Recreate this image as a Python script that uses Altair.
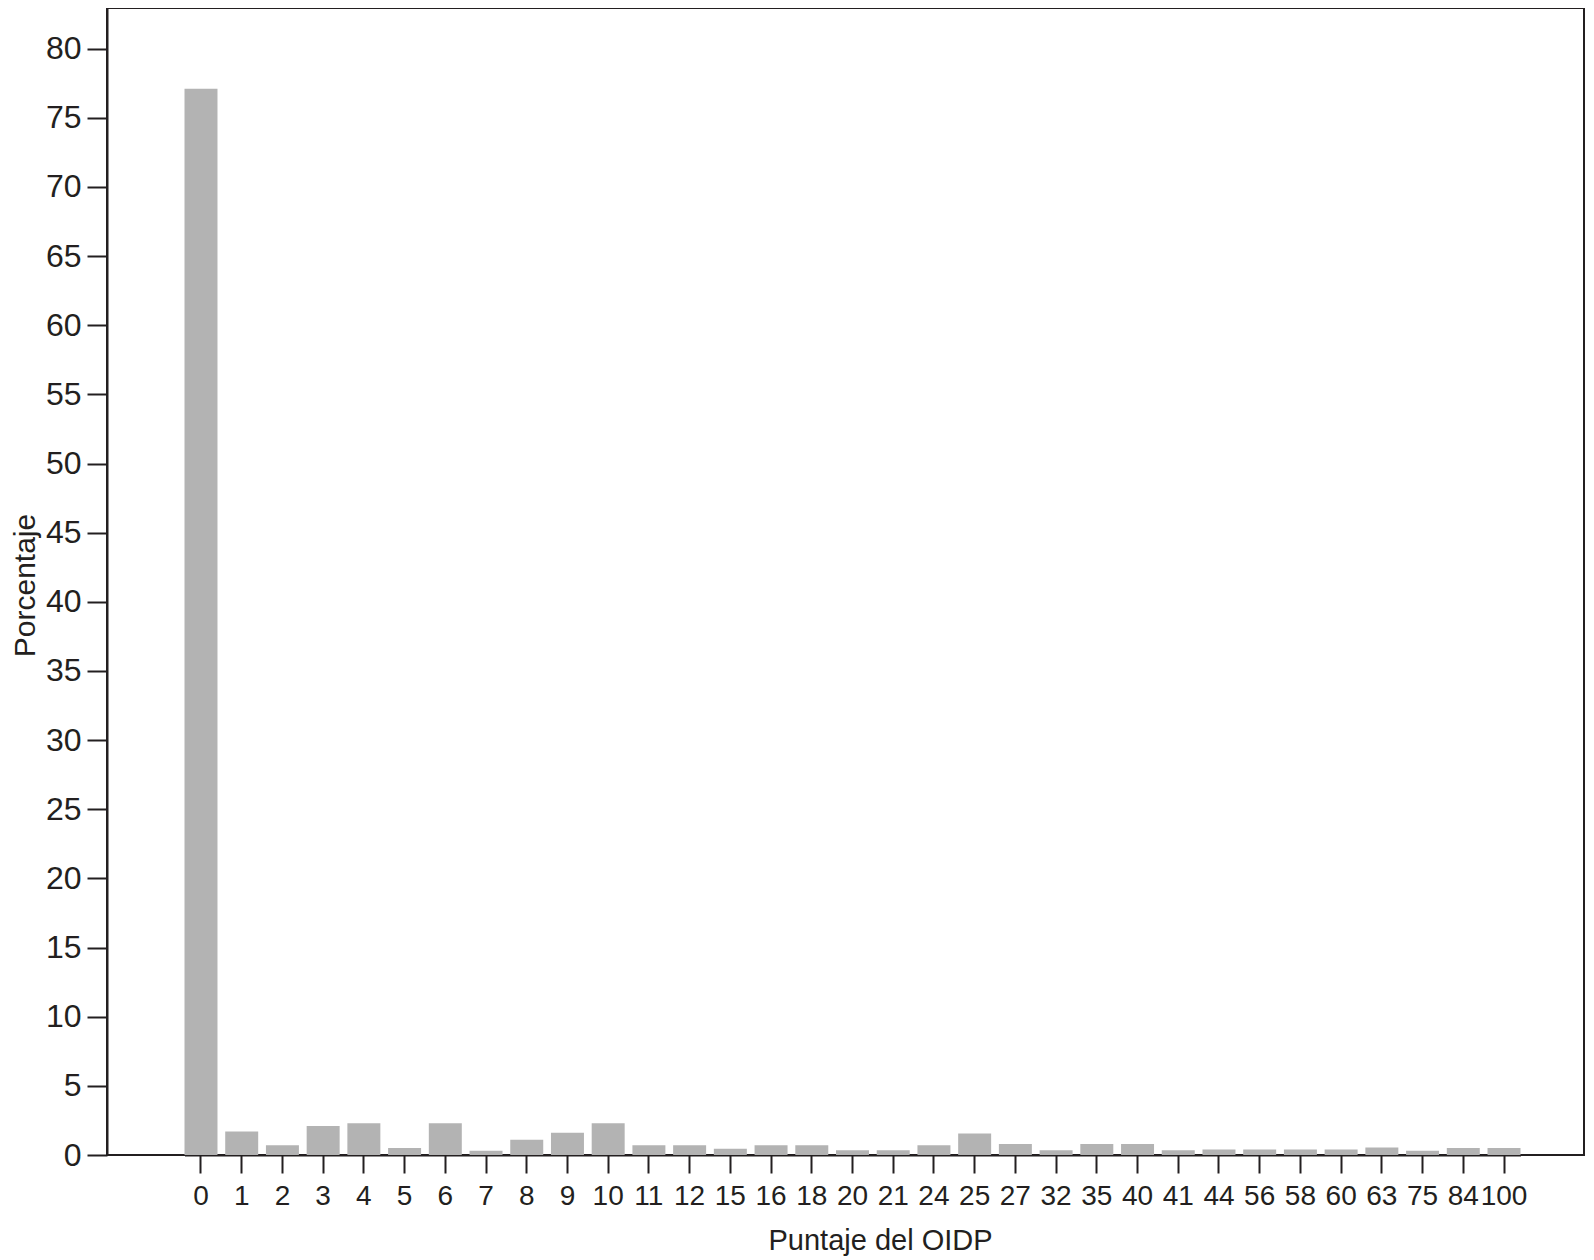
import altair as alt
import pandas as pd

scores = ["0", "1", "2", "3", "4", "5", "6", "7", "8", "9", "10", "11", "12", "15", "16",
          "18", "20", "21", "24", "25", "27", "32", "35", "40", "41", "44", "56", "58",
          "60", "63", "75", "84", "100"]
percent = [77.1, 1.7, 0.7, 2.1, 2.3, 0.5, 2.3, 0.3, 1.1, 1.6, 2.3, 0.7, 0.7, 0.45, 0.7,
           0.7, 0.35, 0.35, 0.7, 1.55, 0.8, 0.35, 0.8, 0.8, 0.35, 0.4, 0.4, 0.4,
           0.4, 0.55, 0.3, 0.5, 0.5]
y_ticks = list(range(0, 85, 5))

df = pd.DataFrame({"score": scores, "pct": percent})

ink = "#231f20"
font = "Liberation Sans"

chart = alt.Chart(df).mark_bar(color="#b3b3b3").encode(
    x=alt.X("score:N", sort=scores,
            scale=alt.Scale(paddingInner=0.19, paddingOuter=0, range=[77.5, 1413.5]),
            axis=alt.Axis(title="Puntaje del OIDP", labelAngle=0, labelOverlap=False,
                          tickSize=18, tickWidth=2, tickColor=ink,
                          domainColor=ink, domainWidth=2,
                          labelFontSize=28, labelColor=ink, labelPadding=9, labelFont=font,
                          titleFontSize=29, titleFontWeight="normal", titleColor=ink,
                          titleFont=font, titleX=773, titleY=94,
                          titleBaseline="alphabetic")),
    y=alt.Y("pct:Q", scale=alt.Scale(domain=[0, 82.94], nice=False),
            axis=alt.Axis(title="Porcentaje", values=y_ticks, grid=False,
                          tickSize=20, tickWidth=2, tickColor=ink,
                          domainColor=ink, domainWidth=2,
                          labelFontSize=32, labelColor=ink, labelPadding=6, labelFont=font,
                          titleFontSize=30, titleFontWeight="normal", titleColor=ink,
                          titleFont=font, titleX=-67, titleY=577)),
).properties(
    width=1477, height=1147,
    autosize=alt.AutoSizeParams(type="none"),
    padding={"left": 99, "top": 0, "right": 2, "bottom": 103},
).configure(background="white").configure_view(stroke=ink, strokeWidth=2)

chart.save("out.html", embed_options={"renderer": "svg", "actions": False})
